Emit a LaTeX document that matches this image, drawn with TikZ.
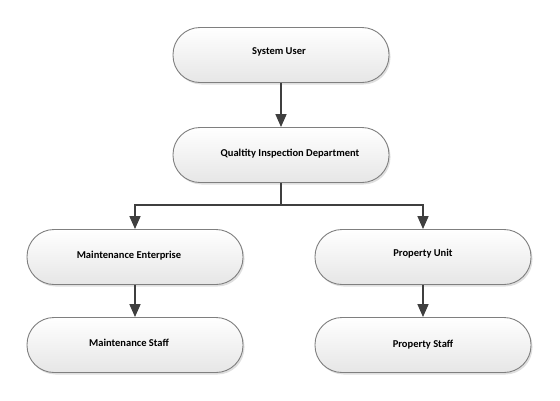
\documentclass[tikz,border=0pt]{standalone}
\usepackage{fontspec}
\setmainfont{Carlito}
\usetikzlibrary{calc,arrows.meta,shadows}

\definecolor{boxline}{HTML}{7F7F7F}
\definecolor{boxfill}{HTML}{E6E6E6}
\definecolor{arrowgray}{HTML}{3F3F3F}

\tikzset{
  unitbox/.style={draw=boxline,line width=0.9pt,rectangle,minimum height=55pt,minimum width=216pt,
    rounded corners=27pt,top color=white,bottom color=boxfill,
    drop shadow={shadow xshift=1.5pt,shadow yshift=-2pt,opacity=0.25,fill=gray}},
  unittext/.style={font=\fontsize{10.5}{12}\selectfont\bfseries,inner sep=0pt},
  flow/.style={draw=arrowgray,line width=1.6pt,-{Triangle[length=13pt,width=11pt]}}
}

\begin{document}
\begin{tikzpicture}[x=1pt,y=-1pt]
\useasboundingbox (0,0) rectangle (560,400);

\draw node [unitbox] (user) at (281,55){};
\draw node [unittext] (usertext) at ($ (user) + (-2,-3)$){System User};

\draw node [unitbox] (qid) at (281,155){};
\draw node [unittext] (qidtext) at ($ (qid) + (9,-1)$){Qualtity Inspection Department};

\draw node [unitbox] (enterprise) at (135,257){};
\draw node [unittext] (enterprisetext) at ($ (enterprise) + (-6,-1)$){Maintenance Enterprise};

\draw node [unitbox] (unit) at (423,257){};
\draw node [unittext] (unittext) at ($ (unit) + (0,-3)$){Property Unit};

\draw node [unitbox] (mstaff) at (135,345){};
\draw node [unittext] (mstafftext) at ($ (mstaff) + (-6,-2)$){Maintenance Staff};

\draw node [unitbox] (pstaff) at (423,345){};
\draw node [unittext] (pstafftext) at ($ (pstaff) + (0,0)$){Property Staff};

\coordinate (split) at ($ (qid.south) + (0,22)$);

\draw[flow] (user.south) -- (qid.north);
\draw[flow] (qid.south) -- (split) -| (enterprise.north);
\draw[flow] (split) -| (unit.north);
\draw[flow] (enterprise.south) -- (mstaff.north);
\draw[flow] (unit.south) -- (pstaff.north);

\end{tikzpicture}
\end{document}
